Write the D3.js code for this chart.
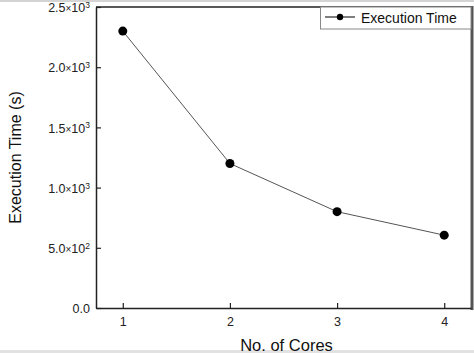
<!DOCTYPE html>
<html>
<head>
<meta charset="utf-8">
<script src="https://cdn.jsdelivr.net/npm/d3@7"></script>
<style>
  body { margin: 0; background: #fff; }
  svg { display: block; font-family: Arial, "Liberation Sans", sans-serif; }
</style>
</head>
<body>
<svg id="chart" width="474" height="353"></svg>
<script>
// data
var cores = [1, 2, 3, 4];
var execTime = [2300, 1200, 800, 605];
var yTicks = [0, 500, 1000, 1500, 2000, 2500];
var seriesName = "Execution Time";

var svg = d3.select("#chart"),
    width = +svg.attr("width"),
    height = +svg.attr("height");

var m = { left: 96, right: 471, top: 7, bottom: 308 };

var x = d3.scaleLinear().domain([0.75, 4.25]).range([m.left, m.right]);
var y = d3.scaleLinear().domain([0, 2500]).range([m.bottom, m.top]);

// grey bands at top and bottom (scan edges)
svg.append("rect").attr("x", 0).attr("y", 0).attr("width", width).attr("height", 2).attr("fill", "#d4d4d4");
svg.append("rect").attr("x", 0).attr("y", 350).attr("width", width).attr("height", 3).attr("fill", "#e2e2e2");

// frame top + right
svg.append("line").attr("x1", m.left).attr("x2", m.right).attr("y1", m.top).attr("y2", m.top)
    .attr("stroke", "#222").attr("stroke-width", 1.5);
svg.append("line").attr("x1", m.right + 1).attr("x2", m.right + 1).attr("y1", m.top - 1).attr("y2", m.bottom + 2)
    .attr("stroke", "#555").attr("stroke-width", 3);

// superscript labels like 2.5×10³
function sciLabel(sel) {
    sel.each(function(d) {
        var t = d3.select(this).text("");
        if (d === 0) { t.text("0.0"); return; }
        var e = Math.floor(Math.log10(d));
        var mant = (d / Math.pow(10, e)).toFixed(1);
        t.append("tspan").text(mant);
        t.append("tspan").text("×").style("font-size", "10px");
        t.append("tspan").text("10");
        t.append("tspan").text(e).style("font-size", "8.5px").attr("dy", "-0.5em");
    });
}

// y axis
var yAxis = svg.append("g")
    .attr("transform", "translate(" + m.left + ",0)")
    .call(d3.axisLeft(y).tickValues(yTicks).tickSizeInner(-5).tickSizeOuter(0).tickPadding(6));
yAxis.select(".domain").attr("stroke", "#222").attr("stroke-width", 1.5);
yAxis.selectAll(".tick line").attr("stroke", "#222").attr("stroke-width", 1.2);
yAxis.selectAll("text").style("font-size", "12.5px").attr("fill", "#222").attr("dy", "0.38em").call(sciLabel);

// x axis
var xAxis = svg.append("g")
    .attr("transform", "translate(0," + m.bottom + ")")
    .call(d3.axisBottom(x).tickValues(cores).tickFormat(d3.format("d")).tickSizeInner(-5).tickSizeOuter(0).tickPadding(9));
xAxis.select(".domain").attr("stroke", "#222").attr("stroke-width", 1.5);
xAxis.selectAll(".tick line").attr("stroke", "#222").attr("stroke-width", 1.2);
xAxis.selectAll("text").style("font-size", "12.5px").attr("fill", "#222");

// axis titles
svg.append("text")
    .attr("x", (m.left + m.right) / 2 + 3)
    .attr("y", 351)
    .attr("text-anchor", "middle")
    .style("font-size", "16.5px")
    .attr("fill", "#111")
    .text("No. of Cores");

svg.append("text")
    .attr("transform", "translate(21," + ((m.top + m.bottom) / 2) + ") rotate(-90)")
    .attr("text-anchor", "middle")
    .style("font-size", "16px")
    .attr("fill", "#111")
    .text("Execution Time (s)");

// line + points
var pts = cores.map(function(c, i) { return [c, execTime[i]]; });

svg.append("path")
    .datum(pts)
    .attr("fill", "none")
    .attr("stroke", "#555")
    .attr("stroke-width", 1)
    .attr("d", d3.line().x(function(d) { return x(d[0]); }).y(function(d) { return y(d[1]); }));

svg.append("g").selectAll("circle")
    .data(pts)
    .enter().append("circle")
    .attr("cx", function(d) { return x(d[0]); })
    .attr("cy", function(d) { return y(d[1]); })
    .attr("r", 4.5)
    .attr("fill", "#000");

// legend
var lg = svg.append("g");
lg.append("rect")
    .attr("x", 320.5).attr("y", m.top)
    .attr("width", m.right - 320.5).attr("height", 22)
    .attr("fill", "#fff").attr("stroke", "#888").attr("stroke-width", 1);
lg.append("line")
    .attr("x1", 325).attr("x2", 355).attr("y1", 17).attr("y2", 17)
    .attr("stroke", "#000").attr("stroke-width", 1);
lg.append("circle").attr("cx", 340).attr("cy", 17).attr("r", 3.2).attr("fill", "#000");
lg.append("text")
    .attr("x", 361).attr("y", 22.5)
    .style("font-size", "14px")
    .attr("fill", "#111")
    .text(seriesName);
</script>
</body>
</html>
